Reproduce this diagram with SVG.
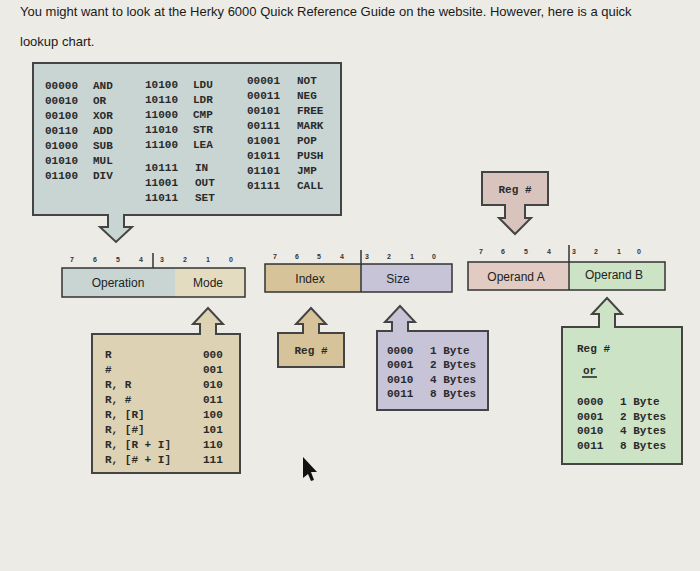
<svg xmlns="http://www.w3.org/2000/svg" width="700" height="571" viewBox="0 0 700 571">
<style>
.h{font-family:"Liberation Sans",Arial,sans-serif;font-size:13px;fill:#1a1a1a}
.m{font-family:"Liberation Mono","Courier New",monospace;font-size:11px;font-weight:bold;fill:#2a2a2a}
.s{font-family:"Liberation Sans",Arial,sans-serif;font-size:12px;fill:#222}
.b{font-family:"Liberation Sans",Arial,sans-serif;font-size:7px;font-weight:bold;fill:#333}
.o{stroke:#444;stroke-width:2;stroke-linejoin:miter}
.l{stroke:#333;stroke-width:1.5}
</style>
<rect width="700" height="571" fill="#ecebe6"/>
<text class="h" x="20" y="16">You might want to look at the Herky 6000 Quick Reference Guide on the website. However, here is a quick</text>
<text class="h" x="20" y="46">lookup chart.</text>

<g id="opcodes">
<path class="o" fill="#c9d5d3" d="M33,63 H341 V215 H124 V227 H132 L116,242 L100,227 H108 V215 H33 Z"/>
<g class="m">
<text x="45" y="89">00000</text><text x="93" y="89">AND</text>
<text x="45" y="104">00010</text><text x="93" y="104">OR</text>
<text x="45" y="119">00100</text><text x="93" y="119">XOR</text>
<text x="45" y="134">00110</text><text x="93" y="134">ADD</text>
<text x="45" y="149">01000</text><text x="93" y="149">SUB</text>
<text x="45" y="164">01010</text><text x="93" y="164">MUL</text>
<text x="45" y="179">01100</text><text x="93" y="179">DIV</text>
<text x="145" y="88">10100</text><text x="193" y="88">LDU</text>
<text x="145" y="103">10110</text><text x="193" y="103">LDR</text>
<text x="145" y="118">11000</text><text x="193" y="118">CMP</text>
<text x="145" y="133">11010</text><text x="193" y="133">STR</text>
<text x="145" y="148">11100</text><text x="193" y="148">LEA</text>
<text x="145" y="171">10111</text><text x="195" y="171">IN</text>
<text x="145" y="186">11001</text><text x="195" y="186">OUT</text>
<text x="145" y="201">11011</text><text x="195" y="201">SET</text>
<text x="247" y="84">00001</text><text x="297" y="84">NOT</text>
<text x="247" y="99">00011</text><text x="297" y="99">NEG</text>
<text x="247" y="114">00101</text><text x="297" y="114">FREE</text>
<text x="247" y="129">00111</text><text x="297" y="129">MARK</text>
<text x="247" y="144">01001</text><text x="297" y="144">POP</text>
<text x="247" y="159">01011</text><text x="297" y="159">PUSH</text>
<text x="247" y="174">01101</text><text x="297" y="174">JMP</text>
<text x="247" y="189">01111</text><text x="297" y="189">CALL</text>
</g>
</g>

<g id="field1">
<rect x="62" y="268" width="113" height="29" fill="#c9d5d3"/>
<rect x="175" y="268" width="70" height="29" fill="#e4dcc0"/>
<rect x="62" y="268" width="183" height="29" fill="none" class="l"/>
<line x1="153" y1="253" x2="153" y2="268" class="l"/>
<g class="b"><text x="70" y="262">7</text><text x="93" y="262">6</text><text x="116" y="262">5</text><text x="139" y="262">4</text><text x="160" y="262">3</text><text x="183" y="262">2</text><text x="206" y="262">1</text><text x="229" y="262">0</text></g>
<text class="s" x="118" y="287" text-anchor="middle">Operation</text>
<text class="s" x="208" y="287" text-anchor="middle">Mode</text>
</g>

<g id="field2">
<rect x="265" y="264" width="96" height="28" fill="#d6c39a"/>
<rect x="361" y="264" width="91" height="28" fill="#c8c4d8"/>
<rect x="265" y="264" width="187" height="28" fill="none" class="l"/>
<line x1="361" y1="250" x2="361" y2="292" class="l"/>
<g class="b"><text x="273" y="259">7</text><text x="295" y="259">6</text><text x="317" y="259">5</text><text x="340" y="259">4</text><text x="365" y="259">3</text><text x="387" y="259">2</text><text x="410" y="259">1</text><text x="432" y="259">0</text></g>
<text class="s" x="310" y="283" text-anchor="middle">Index</text>
<text class="s" x="398" y="283" text-anchor="middle">Size</text>
</g>

<g id="field3">
<rect x="468" y="262" width="101" height="28" fill="#e2cbc3"/>
<rect x="569" y="262" width="96" height="28" fill="#cde3c6"/>
<rect x="468" y="262" width="197" height="28" fill="none" class="l"/>
<line x1="569" y1="245" x2="569" y2="290" class="l"/>
<g class="b"><text x="479" y="254">7</text><text x="501" y="254">6</text><text x="524" y="254">5</text><text x="547" y="254">4</text><text x="572" y="254">3</text><text x="594" y="254">2</text><text x="617" y="254">1</text><text x="637" y="254">0</text></g>
<text class="s" x="516" y="281" text-anchor="middle">Operand A</text>
<text class="s" x="614" y="279" text-anchor="middle">Operand B</text>
</g>

<g id="regA">
<path class="o" fill="#d9c4bd" d="M482,172 H548 V205 H525 V218 H531 L515,234 L499,218 H505 V205 H482 Z"/>
<text class="m" x="515" y="193" text-anchor="middle">Reg #</text>
</g>

<g id="mode">
<path class="o" fill="#ddd3b4" d="M92,334 H200 V324 H193 L208,308 L223,324 H216 V334 H240 V473 H92 Z"/>
<g class="m">
<text x="105" y="358">R</text><text x="203" y="358">000</text>
<text x="105" y="373">#</text><text x="203" y="373">001</text>
<text x="105" y="388">R, R</text><text x="203" y="388">010</text>
<text x="105" y="403">R, #</text><text x="203" y="403">011</text>
<text x="105" y="418">R, [R]</text><text x="203" y="418">100</text>
<text x="105" y="433">R, [#]</text><text x="203" y="433">101</text>
<text x="105" y="448">R, [R + I]</text><text x="203" y="448">110</text>
<text x="105" y="463">R, [# + I]</text><text x="203" y="463">111</text>
</g>
</g>

<g id="index">
<path class="o" fill="#d6c39a" d="M278,333 H303 V324 H296 L311,308 L326,324 H319 V333 H344 V367 H278 Z"/>
<text class="m" x="311" y="354" text-anchor="middle">Reg #</text>
</g>

<g id="size">
<path class="o" fill="#c8c4d8" d="M377,331 H392 V322 H385 L400,306 L415,322 H408 V331 H488 V410 H377 Z"/>
<g class="m">
<text x="387" y="354">0000</text><text x="430" y="354">1 Byte</text>
<text x="387" y="368">0001</text><text x="430" y="368">2 Bytes</text>
<text x="387" y="383">0010</text><text x="430" y="383">4 Bytes</text>
<text x="387" y="397">0011</text><text x="430" y="397">8 Bytes</text>
</g>
</g>

<g id="operandB">
<path class="o" fill="#cde3c6" d="M562,327 H599 V314 H592 L607,298 L622,314 H615 V327 H682 V464 H562 Z"/>
<g class="m">
<text x="577" y="352">Reg #</text>
<text x="583" y="374">or</text>
<text x="577" y="405">0000</text><text x="620" y="405">1 Byte</text>
<text x="577" y="420">0001</text><text x="620" y="420">2 Bytes</text>
<text x="577" y="434">0010</text><text x="620" y="434">4 Bytes</text>
<text x="577" y="449">0011</text><text x="620" y="449">8 Bytes</text>
</g>
<line x1="582" y1="377" x2="597" y2="377" stroke="#222" stroke-width="1.5"/>
</g>

<g id="cursor">
<path d="M303,457 L317,472 L311,472 L314,480 L311,481 L308,474 L303,478 Z" fill="#111"/>
</g>
</svg>
